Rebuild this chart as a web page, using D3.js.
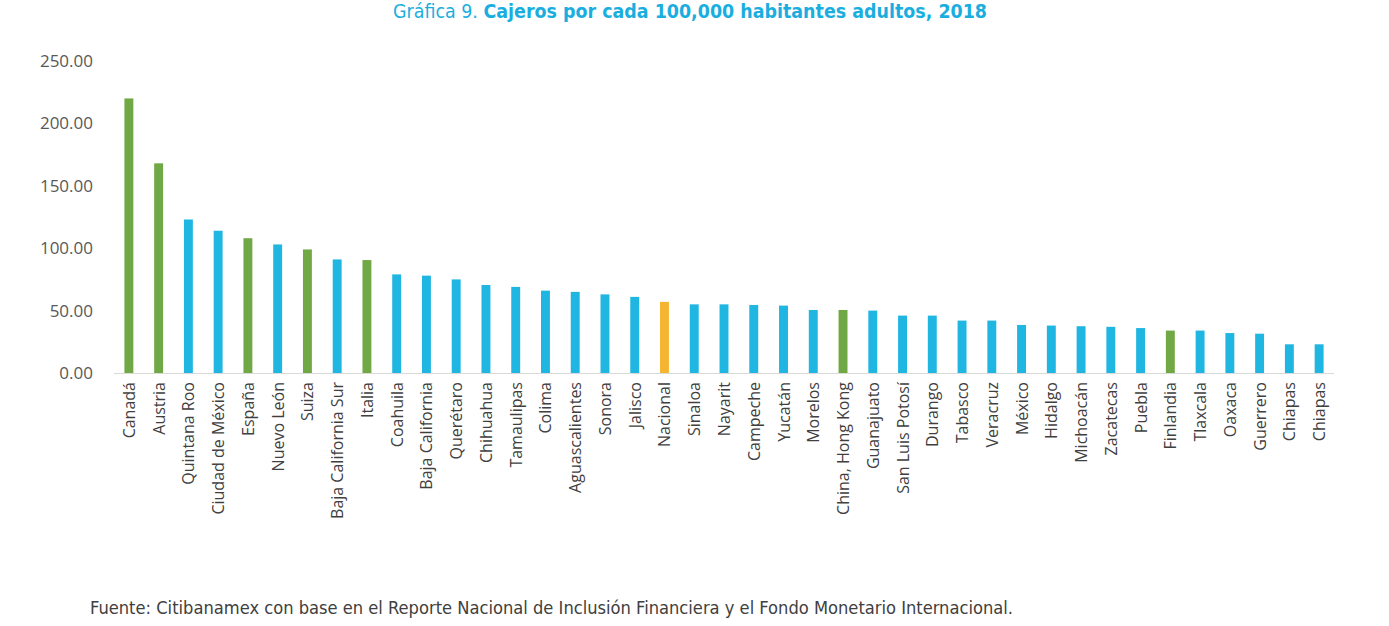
<!DOCTYPE html>
<html><head><meta charset="utf-8">
<script src="https://cdn.jsdelivr.net/npm/d3@7"></script>
<style>body{margin:0;background:#fff}</style>
</head><body>
<svg id="c" width="1389" height="626"></svg>
<script>
const categories = ["Canadá","Austria","Quintana Roo","Ciudad de México","España","Nuevo León","Suiza","Baja California Sur","Italia","Coahuila","Baja California","Querétaro","Chihuahua","Tamaulipas","Colima","Aguascalientes","Sonora","Jalisco","Nacional","Sinaloa","Nayarit","Campeche","Yucatán","Morelos","China, Hong Kong","Guanajuato","San Luis Potosí","Durango","Tabasco","Veracruz","México","Hidalgo","Michoacán","Zacatecas","Puebla","Finlandia","Tlaxcala","Oaxaca","Guerrero","Chiapas","Chiapas"];
const values = [220,168,123,114,108,103,99,91,90.5,79,78,75,70.5,69,66,65,63,61,57,55,55,54.5,54,50.5,50.5,50,46,46,42,42,38.5,38,37.5,37,36,34,34,32,31.5,23,23];
// g = país, n = nacional, e = estado
const kinds = ["g","g","e","e","g","e","g","e","g","e","e","e","e","e","e","e","e","e","n","e","e","e","e","e","g","e","e","e","e","e","e","e","e","e","e","g","e","e","e","e","e"];
const yTicks = [0,50,100,150,200,250];
const colors = {g:"#70a846", n:"#f6b531", e:"#20b6e2"};

const svg = d3.select("#c");
const x = d3.scaleBand().domain(d3.range(categories.length)).range([114,1334]).paddingInner(0.7).paddingOuter(0.35);
const y = d3.scaleLinear().domain([0,250]).range([373,61]);

svg.append("text").attr("x",393).attr("y",18)
  .attr("textLength",594).attr("lengthAdjust","spacingAndGlyphs")
  .style("font-family","'DejaVu Sans Condensed','Liberation Sans Narrow',sans-serif").style("font-size","20px").attr("fill","#1aaee0")
  .call(t=>{t.append("tspan").attr("font-weight","300").text("Gráfica 9. ");t.append("tspan").attr("font-weight","bold").text("Cajeros por cada 100,000 habitantes adultos, 2018");});

svg.append("g").selectAll("text").data(yTicks).join("text")
  .attr("x",93).attr("y",d=>y(d)+6).attr("text-anchor","end")
  .style("font-family","'Open Sans',sans-serif").style("font-size","17px").attr("fill","#595959")
  .text(d=>d.toFixed(2));

svg.append("g").selectAll("rect").data(values).join("rect")
  .attr("x",(d,i)=>x(i)).attr("width",x.bandwidth())
  .attr("y",d=>y(d)).attr("height",d=>y(0)-y(d))
  .attr("fill",(d,i)=>colors[kinds[i]]);

svg.append("line").attr("x1",114).attr("x2",1334).attr("y1",y(0)+0.5).attr("y2",y(0)+0.5).attr("stroke","#d9d9d9");

svg.append("g").selectAll("text").data(categories).join("text")
  .attr("transform",(d,i)=>`translate(${x(i)+x.bandwidth()/2+6},382) rotate(-90)`)
  .attr("text-anchor","end")
  .style("font-family","'Open Sans',sans-serif").style("font-size","16px").attr("fill","#404040")
  .text(d=>d);

svg.append("text").attr("x",90).attr("y",614)
  .attr("textLength",923).attr("lengthAdjust","spacingAndGlyphs")
  .style("font-family","'DejaVu Sans Condensed','Liberation Sans Narrow',sans-serif").style("font-size","18px").attr("fill","#404040")
  .text("Fuente: Citibanamex con base en el Reporte Nacional de Inclusión Financiera y el Fondo Monetario Internacional.");
</script>
</body></html>
